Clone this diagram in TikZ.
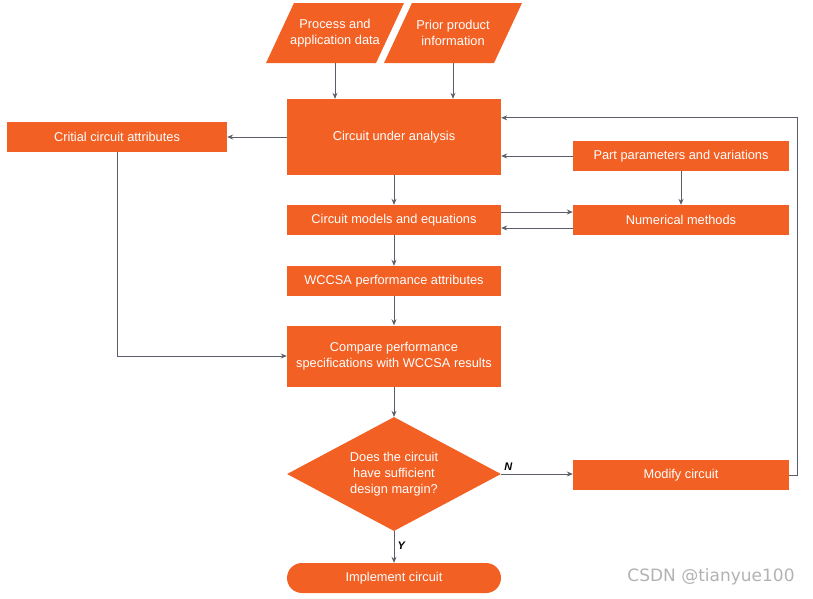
\documentclass[tikz,border=0pt]{standalone}
\usepackage{fontspec}
\setmainfont{Liberation Sans}
\newfontfamily\wmfont{DejaVu Sans}
\usetikzlibrary{shapes,arrows.meta,positioning,calc,backgrounds}
\definecolor{wcorange}{RGB}{242,96,36}
\definecolor{wcline}{RGB}{90,94,106}
\begin{document}
\begin{tikzpicture}[x=1pt,y=-1pt,
	blk/.style={fill=wcorange,text=white,font=\fontsize{12.8}{16}\selectfont,minimum height=30pt,inner sep=2pt,align=center},
	io/.style={blk,fill=none,minimum width=82pt,minimum height=60pt,inner sep=0pt},
	arr/.style={draw=wcline,line width=0.8pt,-{Stealth[length=6pt,width=5pt]}},
	lbl/.style={font=\bfseries\itshape\fontsize{11}{13}\selectfont}]
	
	\useasboundingbox (0,0) rectangle (813,598);
	
	% inputs
	\node[io] (pad) at (335,33) {Process and\\application data};
	\node[io] (ppi) at (453,33) {Prior product\\information};
	\begin{scope}[on background layer]
		\foreach \p in {pad,ppi}
			\fill[wcorange] ($(\p.center)+(-69,30)$) -- ($(\p.center)+(41,30)$) -- ($(\p.center)+(69,-30)$) -- ($(\p.center)+(-41,-30)$) -- cycle;
	\end{scope}
	
	% main column
	\node[blk,minimum width=214pt,minimum height=76pt] (cua) at (394,137) {Circuit under analysis};
	\node[blk,minimum width=214pt] (cme) at (394,220) {Circuit models and equations};
	\node[blk,minimum width=214pt] (wpa) at (394,281) {WCCSA performance attributes};
	\node[blk,minimum width=214pt,minimum height=61pt] (cmp) at (394,356) {Compare performance\\specifications with WCCSA results};
	\node[blk,diamond,shape aspect=1.88,minimum width=214pt,minimum height=114pt,inner sep=0pt] (dec) at (394,474) {Does the circuit\\have sufficient\\design margin?};
	\node[blk,rounded corners=15pt,minimum width=214pt] (imp) at (394,578) {Implement circuit};
	
	% side boxes
	\node[blk,minimum width=220pt] (cca) at (117,137) {Critial circuit attributes};
	\node[blk,minimum width=216pt] (ppv) at (681,156) {Part parameters and variations};
	\node[blk,minimum width=216pt] (num) at (681,220) {Numerical methods};
	\node[blk,minimum width=216pt] (mod) at (681,475) {Modify circuit};
	
	% connectors
	\draw[arr] (pad.south) -- (pad.south |- cua.north);
	\draw[arr] (ppi.south) -- (ppi.south |- cua.north);
	\draw[arr] (cua.west) -- (cca.east);
	\draw[arr] (ppv.west) -- (ppv.west -| cua.east);
	\draw[arr] (ppv.south) -- (num.north);
	\draw[arr] (cua.south) -- (cme.north);
	\draw[arr] ([yshift=8pt]cme.east) -- ([yshift=8pt]num.west);
	\draw[arr] ([yshift=-8pt]num.west) -- ([yshift=-8pt]cme.east);
	\draw[arr] (cme.south) -- (wpa.north);
	\draw[arr] (wpa.south) -- (cmp.north);
	\draw[arr] (cca.south) |- (cmp.west);
	\draw[arr] (cmp.south) -- (dec.north);
	\draw[arr] (dec.east) -- node[lbl,above,pos=0.1]{N} (dec.east -| mod.west);
	\draw[arr] (dec.south) -- node[lbl,right,pos=0.45]{Y} (imp.north);
	\draw[arr] (mod.east) -- ++(8,0) |- ($(cua.north east)+(0,19)$);
	
	\node[text=gray!60,font=\wmfont\fontsize{17}{19}\selectfont] (wm) at (711,577) {CSDN @tianyue100};
	
\end{tikzpicture}
\end{document}
